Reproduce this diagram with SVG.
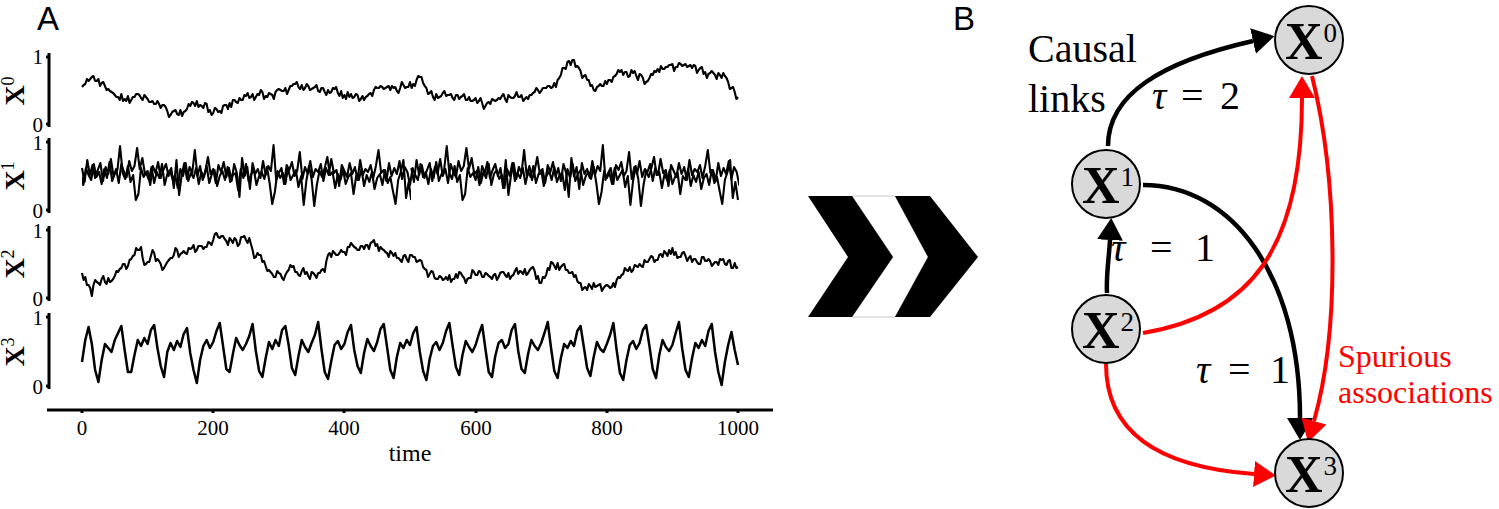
<svg xmlns="http://www.w3.org/2000/svg" xmlns:xlink="http://www.w3.org/1999/xlink" width="1499" height="509" viewBox="0 0 1499 509">
<style>
.ts{fill:none;stroke:#000;stroke-width:2.1;stroke-linejoin:round;vector-effect:non-scaling-stroke}
.ax{stroke:#000;stroke-width:3;fill:none}
.tk{font-family:"Liberation Serif",serif;font-size:21px;fill:#000}
.yl{font-family:"Liberation Serif",serif;font-size:28px;font-weight:bold;fill:#000}
.sup{font-weight:normal;font-size:18px}
.panel{font-family:"Liberation Sans",Arial,sans-serif;font-size:33px;fill:#000}
.node circle{fill:#d9d9d9;stroke:#000;stroke-width:2}
.nl{font-family:"Liberation Serif",serif;font-size:52px;font-weight:bold;fill:#000;text-anchor:middle}
.ns{font-weight:normal;font-size:27px}
.lbl{font-family:"Liberation Serif",serif;font-size:40px;fill:#000}
.tau{font-style:italic}
.bl{fill:none;stroke:#000;stroke-width:4.5}
.rd{fill:none;stroke:#ff0000;stroke-width:4}
.red{font-family:"Liberation Serif",serif;font-size:32px;fill:#ff0000}
</style>
<defs>
<marker id="ab" markerUnits="userSpaceOnUse" markerWidth="24" markerHeight="28" viewBox="0 -14 24 28" refX="0" refY="0" orient="auto"><path d="M0,-13 L22,0 L0,13 z" fill="#000"/></marker>
<marker id="ar" markerUnits="userSpaceOnUse" markerWidth="24" markerHeight="28" viewBox="0 -14 24 28" refX="0" refY="0" orient="auto"><path d="M0,-13 L22,0 L0,13 z" fill="#ff0000"/></marker>
<clipPath id="cL"><rect x="82" y="130" width="329" height="90"/></clipPath>
<clipPath id="cR"><rect x="410" y="130" width="329" height="90"/></clipPath>
</defs>
<rect width="1499" height="509" fill="#fff"/>

<g id="panel-a">
<text class="panel" x="37" y="30">A</text>
<g id="axes">
<path class="ax" d="M49,53 V127 M46,57 H49 M46,124 H49"/>
<path class="ax" d="M49,138 V213 M46,142 H49 M46,210 H49"/>
<path class="ax" d="M49,226 V301 M46,230 H49 M46,298 H49"/>
<path class="ax" d="M49,313 V389 M46,317 H49 M46,386 H49"/>
<path class="ax" d="M47,410 H773 M82,410 V413 M213,410 V413 M344,410 V413 M476,410 V413 M607,410 V413 M738,410 V413"/>
<g class="tk" text-anchor="end">
<text x="43" y="64">1</text><text x="43" y="132">0</text>
<text x="43" y="150">1</text><text x="43" y="218">0</text>
<text x="43" y="238">1</text><text x="43" y="306">0</text>
<text x="43" y="325">1</text><text x="43" y="394">0</text>
</g>
<g class="tk" text-anchor="middle" font-size="22">
<text x="82" y="435">0</text><text x="213" y="435">200</text><text x="344" y="435">400</text>
<text x="476" y="435">600</text><text x="607" y="435">800</text><text x="738" y="435">1000</text>
<text x="410" y="461" font-size="24">time</text>
</g>
<g class="yl" text-anchor="middle">
<text transform="translate(24,91) rotate(-90)">X<tspan class="sup" dy="-10">0</tspan></text>
<text transform="translate(24,176) rotate(-90)">X<tspan class="sup" dy="-10">1</tspan></text>
<text transform="translate(24,264) rotate(-90)">X<tspan class="sup" dy="-10">2</tspan></text>
<text transform="translate(24,352) rotate(-90)">X<tspan class="sup" dy="-10">3</tspan></text>
</g>
</g>
<g id="series">
<polyline id="s0" class="ts" transform="translate(82,0) scale(3.28,1)" points="0,87 .5,85 1,84 1.5,79 2,81 2.5,79 3,77 3.5,76 4,81 4.5,81 5,79 5.5,86 6,83 6.5,82 7,86 7.5,90 8,89 8.5,91 9,92 9.5,93 10,95 10.5,97 11,97 11.5,100 12,94 12.5,101 13,99 13.5,101 14,96 14.5,103 15,100 15.5,97 16,97 16.5,94 17,94 17.5,95 18,98 18.5,100 19,95 19.5,97 20,99 20.5,102 21,102 21.5,101 22,104 22.5,104 23,101 23.5,104 24,108 24.5,105 25,105 25.5,107 26,111 26.5,117 27,115 27.5,112 28,111 28.5,110 29,114 29.5,115 30,110 30.5,116 31,112 31.5,111 32,109 32.5,104 33,106 33.5,102 34,103 34.5,106 35,101 35.5,107 36,105 36.5,106 37,108 37.5,103 38,104 38.5,112 39,110 39.5,115 40,113 40.5,108 41,109 41.5,112 42,111 42.5,113 43,106 43.5,105 44,105 44.5,109 45,103 45.5,107 46,100 46.5,100 47,102 47.5,103 48,98 48.5,100 49,100 49.5,95 50,96 50.5,93 51,98 51.5,97 52,94 52.5,100 53,97 53.5,94 54,95 54.5,90 55,92 55.5,99 56,96 56.5,97 57,93 57.5,94 58,95 58.5,99 59,92 59.5,90 60,89 60.5,90 61,91 61.5,91 62,88 62.5,94 63,90 63.5,86 64,86 64.5,84 65,84 65.5,82 66,87 66.5,89 67,85 67.5,90 68,88 68.5,84 69,86 69.5,90 70,89 70.5,88 71,87 71.5,85 72,91 72.5,92 73,88 73.5,88 74,92 74.5,95 75,90 75.5,93 76,92 76.5,88 77,89 77.5,87 78,93 78.5,96 79,91 79.5,98 80,95 80.5,99 81,92 81.5,97 82,94 82.5,98 83,97 83.5,94 84,95 84.5,101 85,99 85.5,96 86,100 86.5,97 87,96 87.5,94 88,93 88.5,96 89,90 89.5,87 90,88 90.5,88 91,86 91.5,87 92,89 92.5,88 93,87 93.5,86 94,90 94.5,86 95,88 95.5,87 96,91 96.5,93 97,88 97.5,82 98,85 98.5,88 99,87 99.5,87 100,82 100.5,88 101,84 101.5,86 102,80 102.5,76 103,77 103.5,77 104,83 104.5,86 105,88 105.5,94 106,93 106.5,91 107,97 107.5,100 108,94 108.5,98 109,97 109.5,96 110,93 110.5,91 111,96 111.5,95 112,95 112.5,94 113,98 113.5,100 114,95 114.5,95 115,99 115.5,97 116,96 116.5,94 117,100 117.5,100 118,97 118.5,101 119,101 119.5,100 120,98 120.5,103 121,101 121.5,98 122,103 122.5,109 123,106 123.5,103 124,102 124.5,104 125,99 125.5,100 126,101 126.5,100 127,98 127.5,99 128,96 128.5,94 129,99 129.5,102 130,95 130.5,97 131,98 131.5,98 132,96 132.5,92 133,97 133.5,97 134,95 134.5,101 135,99 135.5,97 136,99 136.5,95 137,95 137.5,93 138,92 138.5,88 139,90 139.5,93 140,91 140.5,88 141,88 141.5,88 142,86 142.5,86 143,88 143.5,87 144,83 144.5,87 145,80 145.5,78 146,75 146.5,68 147,68 147.5,69 148,62 148.5,61 149,65 149.5,60 150,60 150.5,67 151,66 151.5,68 152,71 152.5,78 153,76 153.5,75 154,80 154.5,80 155,86 155.5,85 156,90 156.5,91 157,87 157.5,86 158,84 158.5,86 159,86 159.5,81 160,84 160.5,80 161,80 161.5,82 162,77 162.5,76 163,74 163.5,70 164,72 164.5,70 165,75 165.5,72 166,72 166.5,77 167,76 167.5,70 168,73 168.5,71 169,76 169.5,80 170,74 170.5,75 171,78 171.5,84 172,82 172.5,81 173,78 173.5,74 174,75 174.5,71 175,72 175.5,69 176,72 176.5,66 177,69 177.5,69 178,67 178.5,67 179,65 179.5,65 180,64 180.5,71 181,67 181.5,67 182,63 182.5,64 183,66 183.5,65 184,64 184.5,67 185,66 185.5,65 186,68 186.5,65 187,66 187.5,73 188,70 188.5,68 189,67 189.5,74 190,72 190.5,78 191,74 191.5,73 192,71 192.5,73 193,75 193.5,79 194,73 194.5,75 195,78 195.5,73 196,76 196.5,78 197,82 197.5,89 198,88 198.5,87 199,92 199.5,99 200,97"/>
<polyline id="s1" class="ts" transform="translate(82,0) scale(2.624,1)" points="0,168 1,182 2,160 3,175 4,165 5,178 6,170 7,163 8,181 9,167 10,174 11,159 12,176 13,169 14,183 15,164 16,172 17,177 18,161 19,171 20,166 21,148 22,169 23,158 24,174 25,171 26,185 27,166 28,173 29,162 30,178 31,170 32,164 33,176 34,168 35,188 36,160 37,195 38,175 39,163 40,179 41,167 42,173 43,150 44,176 45,166 46,180 47,171 48,157 49,174 50,169 51,183 52,165 53,172 54,162 55,177 56,168 57,181 58,164 59,173 60,197 61,158 62,176 63,167 64,189 65,163 66,174 67,169 68,178 69,161 70,175 71,166 72,171 73,145 74,180 75,173 76,168 77,184 78,165 79,170 80,162 81,176 82,171 83,152 84,179 85,167 86,174 87,161 88,177 89,169 90,172 91,164 92,181 93,168 94,175 95,159 96,173 97,170 98,186 99,165 100,171 101,177 102,163 103,174 104,167 105,180 106,160 107,175 108,169 109,172 110,165 111,178 112,166 113,150 114,173 115,170 116,181 117,163 118,176 119,168 120,174 121,161 122,179 123,167 124,172 125,185 126,168 127,175 128,180 129,164 130,177 131,172 132,184 133,169 134,178 135,162 136,181 137,174 138,170 139,146 140,173 141,179 142,166 143,182 144,175 145,200 146,194 147,168 148,177 149,173 150,180 151,167 152,183 153,172 154,178 155,164 156,185 157,174 158,170 159,179 160,175 161,188 162,169 163,176 164,163 165,181 166,173 167,178 168,168 169,184 170,172 171,177 172,166 173,183 174,174 175,170 176,186 177,176 178,171 179,180 180,167 181,182 182,175 183,173 184,190 185,169 186,178 187,164 188,181 189,174 190,170 191,185 192,176 193,172 194,179 195,167 196,183 197,204 198,192 199,171 200,178 201,173 202,184 203,168 204,180 205,175 206,170 207,187 208,176 209,205 210,181 211,166 212,179 213,206 214,185 215,171 216,177 217,168 218,157 219,175 220,172 221,188 222,174 223,180 224,170 225,184 226,177 227,173 228,194 229,176 230,180 231,169 232,186 233,175 234,182 235,172 236,189 237,178 238,174 239,185 240,170 241,183 242,177 243,191 244,204 245,180 246,172 247,160 248,198 249,182 250,200"/>
<g clip-path="url(#cL)"><use xlink:href="#s1" href="#s1" transform="translate(-326.7,0)"/></g>
<g clip-path="url(#cR)"><use xlink:href="#s1" href="#s1" transform="translate(329.3,0)"/></g>
<polyline id="s2" class="ts" transform="translate(82,0) scale(3.28,1)" points="0,273 .5,280 1,277 1.5,285 2,285 2.5,288 3,296 3.5,285 4,280 4.5,282 5,283 5.5,285 6,279 6.5,276 7,282 7.5,284 8,278 8.5,282 9,281 9.5,279 10,276 10.5,271 11,272 11.5,269 12,268 12.5,264 13,264 13.5,269 14,266 14.5,260 15,259 15.5,256 16,255 16.5,248 17,250 17.5,250 18,247 18.5,258 19,265 19.5,264 20,262 20.5,262 21,256 21.5,250 22,253 22.5,261 23,259 23.5,261 24,264 24.5,270 25,268 25.5,265 26,262 26.5,260 27,258 27.5,258 28,255 28.5,248 29,250 29.5,257 30,254 30.5,253 31,251 31.5,253 32,254 32.5,248 33,249 33.5,248 34,245 34.5,252 35,250 35.5,246 36,246 36.5,246 37,249 37.5,247 38,247 38.5,242 39,243 39.5,245 40,240 40.5,234 41,233 41.5,237 42,238 42.5,236 43,236 43.5,239 44,241 44.5,245 45,238 45.5,240 46,243 46.5,238 47,240 47.5,246 48,244 48.5,237 49,237 49.5,236 50,240 50.5,243 51,238 51.5,244 52,250 52.5,258 53,257 53.5,253 54,255 54.5,255 55,262 55.5,261 56,266 56.5,271 57,270 57.5,272 58,274 58.5,277 59,277 59.5,271 60,273 60.5,274 61,278 61.5,280 62,275 62.5,272 63,270 63.5,265 64,267 64.5,266 65,272 65.5,272 66,275 66.5,276 67,271 67.5,268 68,274 68.5,272 69,276 69.5,279 70,272 70.5,273 71,275 71.5,278 72,273 72.5,273 73,270 73.5,269 74,272 74.5,261 75,255 75.5,253 76,257 76.5,251 77,253 77.5,255 78,255 78.5,253 79,250 79.5,252 80,252 80.5,255 81,247 81.5,247 82,243 82.5,245 83,247 83.5,248 84,250 84.5,250 85,246 85.5,246 86,249 86.5,245 87,245 87.5,249 88,243 88.5,242 89,240 89.5,246 90,244 90.5,251 91,247 91.5,249 92,250 92.5,252 93,253 93.5,257 94,251 94.5,253 95,256 95.5,253 96,258 96.5,258 97,260 97.5,262 98,256 98.5,255 99,259 99.5,262 100,255 100.5,255 101,257 101.5,257 102,262 102.5,261 103,260 103.5,261 104,267 104.5,269 105,270 105.5,277 106,274 106.5,271 107,272 107.5,278 108,279 108.5,279 109,276 109.5,277 110,280 110.5,279 111,277 111.5,280 112,275 112.5,282 113,279 113.5,279 114,274 114.5,278 115,272 115.5,273 116,276 116.5,278 117,283 117.5,279 118,278 118.5,278 119,270 119.5,272 120,275 120.5,275 121,271 121.5,272 122,277 122.5,277 123,273 123.5,274 124,276 124.5,277 125,279 125.5,275 126,274 126.5,280 127,277 127.5,273 128,272 128.5,272 129,275 129.5,277 130,273 130.5,279 131,276 131.5,275 132,271 132.5,268 133,274 133.5,271 134,272 134.5,274 135,269 135.5,275 136,273 136.5,270 137,268 137.5,267 138,271 138.5,279 139,276 139.5,283 140,283 140.5,277 141,278 141.5,275 142,268 142.5,270 143,262 143.5,263 144,266 144.5,269 145,263 145.5,270 146,267 146.5,265 147,264 147.5,270 148,270 148.5,273 149,273 149.5,272 150,277 150.5,275 151,281 151.5,283 152,283 152.5,290 153,288 153.5,287 154,290 154.5,284 155,286 155.5,289 156,283 156.5,287 157,286 157.5,285 158,284 158.5,291 159,288 159.5,286 160,285 160.5,286 161,288 161.5,287 162,283 162.5,287 163,280 163.5,277 164,278 164.5,275 165,274 165.5,268 166,270 166.5,271 167,267 167.5,272 168,270 168.5,265 169,266 169.5,267 170,264 170.5,266 171,267 171.5,260 172,262 172.5,262 173,259 173.5,256 174,257 174.5,262 175,260 175.5,260 176,255 176.5,254 177,257 177.5,251 178,253 178.5,256 179,250 179.5,254 180,248 180.5,255 181,252 181.5,258 182,257 182.5,257 183,253 183.5,252 184,256 184.5,261 185,258 185.5,256 186,262 186.5,259 187,259 187.5,262 188,264 188.5,264 189,257 189.5,257 190,261 190.5,261 191,259 191.5,261 192,266 192.5,264 193,262 193.5,262 194,265 194.5,259 195,260 195.5,259 196,264 196.5,265 197,261 197.5,260 198,268 198.5,268 199,263 199.5,268 200,267"/>
<polyline id="s3" class="ts" style="stroke-width:2.5" transform="translate(82,0) scale(3.28,1)" points="0,362 1,340 2,327 3,344 4,370 5,382 6,360 7,344 8,348 9,352 10,340 11,333 12,326 13,350 14,372 15,372 16,355 17,340 18,346 19,338 20,344 21,330 22,325 23,348 24,366 25,377 26,352 27,343 28,350 29,341 30,347 31,334 32,328 33,353 34,370 35,383 36,360 37,346 38,340 39,348 40,342 41,331 42,323 43,346 44,369 45,372 46,354 47,338 48,345 49,350 50,344 51,336 52,324 53,351 54,371 55,377 56,358 57,342 58,349 59,340 60,346 61,330 62,326 63,345 64,368 65,375 66,356 67,340 68,347 69,352 70,343 71,335 72,322 73,349 74,372 75,379 76,361 77,345 78,341 79,349 80,344 81,332 82,325 83,350 84,366 85,373 86,353 87,339 88,346 89,351 90,342 91,329 92,324 93,347 94,370 95,378 96,357 97,343 98,348 99,340 100,345 101,333 102,327 103,352 104,371 105,380 106,359 107,346 108,342 109,350 110,343 111,331 112,323 113,346 114,367 115,375 116,355 117,341 118,347 119,352 120,345 121,334 122,325 123,349 124,372 125,377 126,356 127,343 128,340 129,348 130,344 131,330 132,324 133,351 134,369 135,373 136,354 137,340 138,346 139,350 140,343 141,333 142,322 143,348 144,371 145,378 146,358 147,344 148,348 149,341 150,346 151,331 152,326 153,347 154,368 155,376 156,357 157,342 158,349 159,352 160,344 161,335 162,323 163,350 164,373 165,380 166,360 167,345 168,341 169,349 170,343 171,330 172,325 173,346 174,369 175,378 176,355 177,340 178,347 179,351 180,345 181,333 182,322 183,349 184,370 185,377 186,358 187,343 188,348 189,340 190,346 191,331 192,324 193,352 194,372 195,385 196,362 197,345 198,332 199,350 200,365"/>
</g>
</g>

<g id="chevron">
<polygon points="852,196 895,196 928,257 895,317 852,317 893,257" fill="#fff" stroke="#c8c8c8" stroke-width="1"/>
<polygon points="808,196 852,196 893,257 852,317 808,317 848,257" fill="#000"/>
<polygon points="895,196 930,196 978,257 930,317 895,317 928,257" fill="#000"/>
</g>

<g id="panel-b">
<text class="panel" x="953" y="30">B</text>
<g id="connectors">
<path class="bl" d="M1108,146 C1108,95 1160,62 1253,41" marker-end="url(#ab)"/>
<path class="bl" d="M1107,293 C1106,275 1109,258 1110,240" marker-end="url(#ab)"/>
<path class="bl" d="M1143,185 C1232,185 1300,275 1300,418" marker-end="url(#ab)"/>
<path class="rd" d="M1143,333 C1250,315 1302,250 1302,98" marker-end="url(#ar)"/>
<path class="rd" d="M1312,76 C1338,180 1340,330 1314,421" marker-end="url(#ar)"/>
<path class="rd" d="M1106,364 C1106,440 1170,468 1254,474" marker-end="url(#ar)"/>
</g>
<g id="node-x0" class="node"><circle cx="1309" cy="40" r="34"/><text class="nl" x="1311" y="59">X<tspan class="ns" dx="1" dy="-17">0</tspan></text></g>
<g id="node-x1" class="node"><circle cx="1106" cy="184" r="34"/><text class="nl" x="1108" y="203">X<tspan class="ns" dx="1" dy="-17">1</tspan></text></g>
<g id="node-x2" class="node"><circle cx="1106" cy="329" r="34"/><text class="nl" x="1108" y="348">X<tspan class="ns" dx="1" dy="-17">2</tspan></text></g>
<g id="node-x3" class="node"><circle cx="1309" cy="473" r="34"/><text class="nl" x="1311" y="492">X<tspan class="ns" dx="1" dy="-17">3</tspan></text></g>
<g id="labels">
<text class="lbl" font-size="42" x="1028" y="62">Causal</text>
<text class="lbl" font-size="42" x="1028" y="112">links</text>
<text class="lbl" y="109"><tspan class="tau" x="1152">τ</tspan><tspan x="1181">=</tspan><tspan x="1220">2</tspan></text>
<text class="lbl" y="261"><tspan class="tau" x="1111">τ</tspan><tspan x="1150">=</tspan><tspan x="1195">1</tspan></text>
<text class="lbl" y="383"><tspan class="tau" x="1196">τ</tspan><tspan x="1228">=</tspan><tspan x="1270">1</tspan></text>
<text class="red" x="1338" y="367">Spurious</text>
<text class="red" x="1338" y="403">associations</text>
</g>
</g>
</svg>
